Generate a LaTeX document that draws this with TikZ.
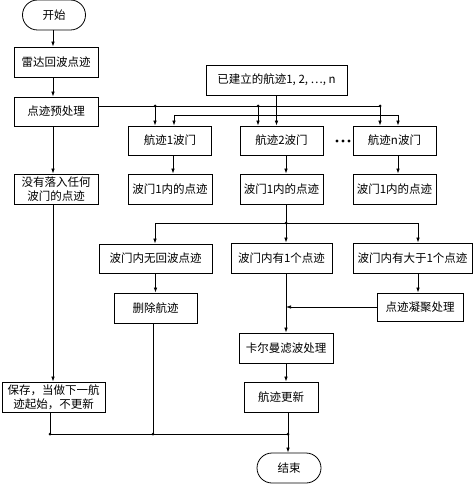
\documentclass[tikz,border=0pt]{standalone}
\usepackage{fontspec}
\setmainfont{Noto Sans CJK SC}
\usetikzlibrary{arrows.meta,shapes.misc}
\begin{document}
\begin{tikzpicture}[x=1pt,y=-1pt,
 box/.style={draw,line width=0.8pt,minimum height=30pt,inner sep=1pt,font=\fontsize{11.5}{13.5}\selectfont,align=center},
 term/.style={box,rounded rectangle},
 arr/.style={-{Latex[length=5pt,width=3.5pt]},line width=0.7pt},
 ln/.style={line width=0.7pt},
 jdot/.style={circle,fill,inner sep=0pt,minimum size=3pt}]
\useasboundingbox (0,0) rectangle (474,484);

% nodes
\node[term,minimum width=65pt] (start) at (54,15) {开始};
\node[box,minimum width=84pt] (radar) at (56,62) {雷达回波点迹};
\node[box,minimum width=84pt,minimum height=29pt] (pre) at (56,111.5) {点迹预处理};
\node[box,minimum width=141pt] (est) at (276.5,80) {已建立的航迹1, 2, …, n};
\node[box,minimum width=83pt,minimum height=29pt] (g1) at (170,140.5) {航迹1波门};
\node[box,minimum width=83pt,minimum height=29pt] (g2) at (281.5,140.5) {航迹2波门};
\node[box,minimum width=83pt,minimum height=29pt] (gn) at (394.5,140.5) {航迹n波门};
\fill (337,141) circle (1.7pt) (343,141) circle (1.7pt) (349,141) circle (1.7pt);
\node[box,minimum width=84pt] (none) at (56,189) {没有落入任何\\波门的点迹};
\node[box,minimum width=84pt] (p1) at (170,189) {波门1内的点迹};
\node[box,minimum width=83pt] (p2) at (281.5,189) {波门1内的点迹};
\node[box,minimum width=83pt] (pn) at (394.5,189) {波门1内的点迹};
\node[box,minimum width=113pt,minimum height=29pt] (noecho) at (155.5,258.5) {波门内无回波点迹};
\node[box,minimum width=101pt] (one) at (281.5,258) {波门内有1个点迹};
\node[box,minimum width=119pt] (more) at (412.5,258) {波门内有大于1个点迹};
\node[box,minimum width=83pt] (del) at (155.5,308) {删除航迹};
\node[box,minimum width=86pt,minimum height=28pt] (agg) at (420,307) {点迹凝聚处理};
\node[box,minimum width=94pt] (kal) at (286,348) {卡尔曼滤波处理};
\node[box,minimum width=74pt] (upd) at (281,397) {航迹更新};
\node[box,minimum width=103pt] (save) at (53.5,397) {保存，当做下一航\\迹起始，不更新};
\node[term,minimum width=66pt] (end) at (289,468) {结束};

% coordinates
\coordinate (lc) at (53,0);
\coordinate (u1) at (155,106);
\coordinate (u2) at (258,106);
\coordinate (u3) at (380,106);
\coordinate (l1) at (174,115);
\coordinate (l3) at (398,115);
\coordinate (jl) at (155,223);
\coordinate (jc) at (286,223);
\coordinate (jr) at (418,223);
\coordinate (m) at (286,307);
\coordinate (b1) at (50,434);
\coordinate (b2) at (153,434);
\coordinate (b3) at (288,434);

% left column
\draw[arr] (start.south -| lc) -- (radar.north -| lc);
\draw[arr] (radar.south -| lc) -- (pre.north -| lc);
\draw[arr] (pre.south -| lc) -- (none.north -| lc);
\draw[arr] (none.south -| lc) -- (save.north -| lc);

% upper distribution line
\draw[ln] ([yshift=5.5pt]pre.east) -- (u3);
\draw[arr] (u1) -- (u1 |- g1.north);
\draw[arr] (u2) -- (u2 |- g2.north);
\draw[arr] (u3) -- (u3 |- gn.north);
\node[jdot] at (u1) {};
\node[jdot] at (u2) {};
\node[jdot] at (u3) {};

% lower distribution line
\draw[ln] (l1) -- (l3);
\draw[arr] (l1) -- (l1 |- g1.north);
\draw[arr] (l3) -- (l3 |- gn.north);
\draw[arr] (est.south) -- (est.south |- g2.north);

% gates to points
\draw[arr] (g1.south -| 173,0) -- (p1.north -| 173,0);
\draw[arr] (g2.south -| 286,0) -- (p2.north -| 286,0);
\draw[arr] (gn.south -| 398,0) -- (pn.north -| 398,0);

% split
\draw[ln] (p2.south -| jc) -- (jc);
\draw[ln] (jl) -- (jr);
\node[jdot] at (jc) {};
\draw[arr] (jl) -- (jl |- noecho.north);
\draw[arr] (jc) -- (jc |- one.north);
\draw[arr] (jr) -- (jr |- more.north);

\draw[arr] (noecho) -- (del);
\draw[arr] (more.south -| jr) -- (agg.north -| jr);
\draw[arr] (agg.west) -- (m);
\draw[arr] (one.south -| jc) -- (kal.north -| jc);
\draw[arr] (kal.south -| jc) -- (upd.north -| jc);

% bottom merge
\draw[ln] (save.south -| b1) -- (b1) -- (b3);
\draw[ln] (del.south -| b2) -- (b2);
\draw[ln] (upd.south -| b3) -- (b3);
\draw[arr] (b3) -- (b3 |- end.north);
\node[jdot] at (b1) {};
\node[jdot] at (b2) {};
\node[jdot] at (b3) {};
\end{tikzpicture}
\end{document}
